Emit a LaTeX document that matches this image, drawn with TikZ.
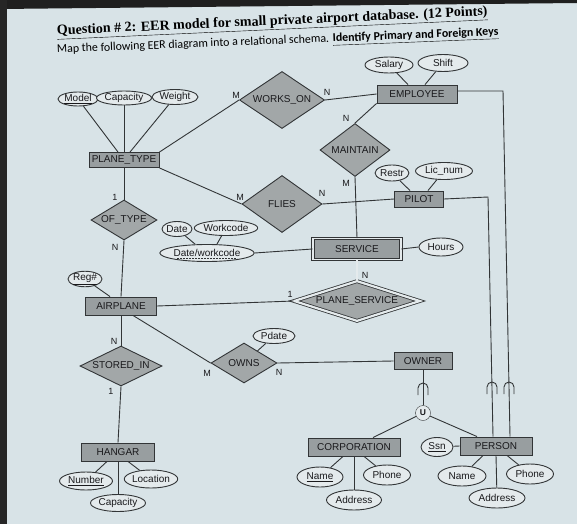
\documentclass[tikz,border=0pt]{standalone}
\usepackage{fontspec}
\setmainfont{Liberation Sans}
\newfontfamily\titlefont{Liberation Serif}
\newfontfamily\subfont{Carlito}
\usetikzlibrary{shapes.geometric,calc}
\definecolor{bg}{RGB}{216,227,231}
\definecolor{entfill}{RGB}{152,158,160}
\definecolor{relfill}{RGB}{162,167,168}
\definecolor{attrfill}{RGB}{228,234,236}
\definecolor{ln}{RGB}{50,53,55}
\definecolor{txt}{RGB}{25,25,28}
\begin{document}
\begin{tikzpicture}[x=1pt,y=-1pt,
  conn/.style={draw=ln,line width=0.9pt},
  base/.style={font=\fontsize{10}{11}\selectfont,text=txt,inner sep=0pt},
  ent/.style={base,rectangle,draw=ln,fill=entfill,line width=0.9pt},
  weak/.style={base,rectangle,draw=ln,fill=entfill,line width=0.8pt,double=attrfill,double distance=1.6pt},
  attr/.style={base,ellipse,draw=ln,fill=attrfill,line width=0.9pt},
  rel/.style={base,diamond,aspect=2,draw=ln,fill=relfill,line width=0.9pt},
  wrel/.style={base,diamond,aspect=3,draw=ln,fill=relfill,line width=0.8pt,double=attrfill,double distance=2.2pt},
  card/.style={font=\fontsize{9}{10}\selectfont,text=txt,inner sep=0pt},
  ucirc/.style={base,circle,draw=ln,fill=attrfill,minimum size=15pt,font=\fontsize{8.5}{9}\selectfont\bfseries}
]
\useasboundingbox (0,0) rectangle (577,524);
\fill[bg] (0,0) rectangle (577,524);
% photo frame
\fill[black!88] (0,0) -- (577,0) -- (577,3) -- (0,9) -- cycle;
\fill[black!85] (0,0) rectangle (7,524);

% title
\node[anchor=base west,rotate=2.6,inner sep=0pt] (title) at (57,35)
  {\titlefont\bfseries\fontsize{14}{15}\selectfont\underline{Question \# 2: EER model for small private airport database. (12 Points)}};
\node[anchor=base west,rotate=2.3,inner sep=0pt] (subtitle) at (57,53)
  {\subfont\fontsize{11.9}{13}\selectfont Map the following EER diagram into a relational schema. \textbf{\underline{Identify Primary and Foreign Keys}}};

% entities
\node[ent,minimum width=80pt,minimum height=18pt] (emp) at (417,94) {EMPLOYEE};
\node[ent,minimum width=70pt,minimum height=15pt] (ptype) at (124,160) {PLANE\_TYPE};
\node[ent,minimum width=49pt,minimum height=16pt] (pilot) at (419,199) {PILOT};
\node[weak,minimum width=88pt,minimum height=21pt] (service) at (357,249) {SERVICE};
\node[ent,minimum width=71pt,minimum height=18pt] (airplane) at (121,306) {AIRPLANE};
\node[ent,minimum width=58pt,minimum height=17pt] (owner) at (423,361) {OWNER};
\node[ent,minimum width=73pt,minimum height=18pt] (hangar) at (118,452) {HANGAR};
\node[ent,minimum width=92pt,minimum height=18pt] (corp) at (354,447) {CORPORATION};
\node[ent,minimum width=72pt,minimum height=18pt] (person) at (496,446) {PERSON};

% relationships
\node[rel,minimum width=85pt,minimum height=57pt] (works) at (282,100) {WORKS\_ON};
\node[rel,minimum width=70pt,minimum height=53pt] (maintain) at (355,150) {MAINTAIN};
\node[rel,minimum width=80pt,minimum height=57pt] (flies) at (282,204) {FLIES};
\node[rel,minimum width=66pt,minimum height=40pt] (oftype) at (124,220) {OF\_TYPE};
\node[wrel,minimum width=126pt,minimum height=40pt] (pserv) at (357,301) {PLANE\_SERVICE};
\node[rel,minimum width=66pt,minimum height=40pt] (owns) at (244,363) {OWNS};
\node[rel,minimum width=82pt,minimum height=40pt] (stored) at (121,366) {STORED\_IN};
\node[ucirc] (u) at (423,413) {U};

% attributes
\node[attr,minimum width=48pt,minimum height=16pt] (salary) at (389,65) {Salary};
\node[attr,minimum width=50pt,minimum height=17pt] (shift) at (443,63) {Shift};
\node[attr,minimum width=40pt,minimum height=14pt] (model) at (78,99) {\underline{Model}};
\node[attr,minimum width=50pt,minimum height=14pt] (cap1) at (124,98) {Capacity};
\node[attr,minimum width=46pt,minimum height=15pt] (weight) at (175,97) {Weight};
\node[attr,minimum width=32pt,minimum height=16pt] (restr) at (392,173) {Restr};
\node[attr,minimum width=57pt,minimum height=17pt] (lic) at (444,171) {Lic\_num};
\node[attr,minimum width=30pt,minimum height=15pt] (date) at (177,229) {Date};
\node[attr,minimum width=60pt,minimum height=15pt] (workcode) at (226,228) {Workcode};
\node[attr,minimum width=88pt,minimum height=17pt] (dw) at (207,253) {Date/workcode};
\draw[ln,line width=0.6pt,dash pattern=on 2pt off 1pt] ($(dw.center)+(-30,5)$) -- ($(dw.center)+(30,5)$);
\node[attr,minimum width=44pt,minimum height=18pt] (hours) at (441,247) {Hours};
\node[attr,minimum width=34pt,minimum height=15pt] (reg) at (85,279) {\underline{Reg\#}};
\node[attr,minimum width=42pt,minimum height=15pt] (pdate) at (274,336) {Pdate};
\node[attr,minimum width=53pt,minimum height=18pt] (num) at (86,481) {\underline{Number}};
\node[attr,minimum width=53pt,minimum height=18pt] (loc) at (151,479) {Location};
\node[attr,minimum width=53pt,minimum height=17pt] (cap2) at (118,503) {Capacity};
\node[attr,minimum width=32pt,minimum height=19pt] (ssn) at (437,447) {\underline{Ssn}};
\node[attr,minimum width=46pt,minimum height=20pt] (cname) at (320,477) {\underline{Name}};
\node[attr,minimum width=47pt,minimum height=20pt] (cphone) at (387,475) {Phone};
\node[attr,minimum width=55pt,minimum height=20pt] (caddr) at (354,500) {Address};
\node[attr,minimum width=48pt,minimum height=20pt] (pname) at (462,476) {Name};
\node[attr,minimum width=47pt,minimum height=20pt] (pphone) at (530,474) {Phone};
\node[attr,minimum width=56pt,minimum height=20pt] (paddr) at (497,498) {Address};

% connectors
\draw[conn] (model) -- ($(ptype.north)+(-6,0)$);
\draw[conn] (cap1) -- (ptype.north);
\draw[conn] (weight) -- ($(ptype.north)+(6,0)$);
\draw[conn] (ptype.north east) -- (works.west);
\draw[conn] (works.east) -- (emp.west);
\draw[conn] (salary) -- ($(emp.north)+(-9,0)$);
\draw[conn] (shift) -- ($(emp.north)+(8,0)$);
\draw[conn] (emp.south west) -- (maintain.north);
\draw[conn] (maintain.south) -- (service.north);
\draw[conn] (ptype.south east) -- (flies.west);
\draw[conn] (flies.east) -- (pilot.west);
\draw[conn] (restr) -- ($(pilot.north)+(-9,0)$);
\draw[conn] (lic) -- ($(pilot.north)+(9,0)$);
\draw[conn] (ptype.south) -- (oftype.north);
\draw[conn] (oftype.south) -- (airplane.north);
\draw[conn] (date) -- ($(dw.north)+(-12,0)$);
\draw[conn] (workcode) -- ($(dw.north)+(10,0)$);
\draw[conn] (dw.east) -- (service.west);
\draw[conn] (service.east) -- (hours.west);
\draw[draw=ln,line width=0.7pt,double=attrfill,double distance=1.4pt] (service.south) -- (pserv.north);
\draw[conn] (airplane.east) -- (pserv.west);
\draw[conn] (reg) -- ($(airplane.north)+(-11,0)$);
\draw[conn] (airplane.south) -- (stored.north);
\draw[conn] ($(airplane.south)+(12,0)$) -- (owns.west);
\draw[conn] (owns) -- (pdate);
\draw[conn] (owns.east) -- (owner.west);
\draw[conn] (stored.south) -- (hangar.north);
\draw[conn] (num) -- ($(hangar.south)+(-11,0)$);
\draw[conn] (cap2) -- (hangar.south);
\draw[conn] (loc) -- ($(hangar.south)+(10,0)$);
\draw[conn] (owner.south) -- (u.north);
\draw[conn] (u) -- ($(corp.north)+(19,0)$);
\draw[conn] (u) -- ($(person.north)+(-19,0)$);
\draw[conn] (cname) -- ($(corp.south)+(-11,0)$);
\draw[conn] (caddr) -- (corp.south);
\draw[conn] (cphone) -- ($(corp.south)+(10,0)$);
\draw[conn] (pname) -- ($(person.south)+(-13,0)$);
\draw[conn] (paddr) -- (person.south);
\draw[conn] (pphone) -- ($(person.south)+(11,0)$);
\draw[conn] (ssn) -- (person.west);
\coordinate (pc) at (488,197);
\coordinate (ec) at (503,91);
\draw[conn] (pilot.east) -- (pc) -- ($(person.north)+(-3,0)$);
\draw[conn] ($(emp.east)+(0,-3)$) -- (ec) -- ($(person.north)+(14,0)$);

% subset symbols
\foreach \cx/\cy in {423/388, 492/387, 509/387}{
  \draw[conn] (\cx-5,\cy+7) -- (\cx-5,\cy) arc (180:360:5) -- (\cx+5,\cy+7);
}

% cardinalities
\node[card] (c1) at (236,95) {M};
\node[card] (c2) at (327,92) {N};
\node[card] (c3) at (346,118) {N};
\node[card] (c4) at (346,183) {M};
\node[card] (c5) at (240,197) {M};
\node[card] (c6) at (322,193) {N};
\node[card] (c7) at (115,197) {1};
\node[card] (c8) at (115,247) {N};
\node[card] (c9) at (290,294) {1};
\node[card] (c10) at (365,275) {N};
\node[card] (c11) at (114,341) {N};
\node[card] (c12) at (111,391) {1};
\node[card] (c13) at (207,373) {M};
\node[card] (c14) at (279,372) {N};
\end{tikzpicture}
\end{document}
